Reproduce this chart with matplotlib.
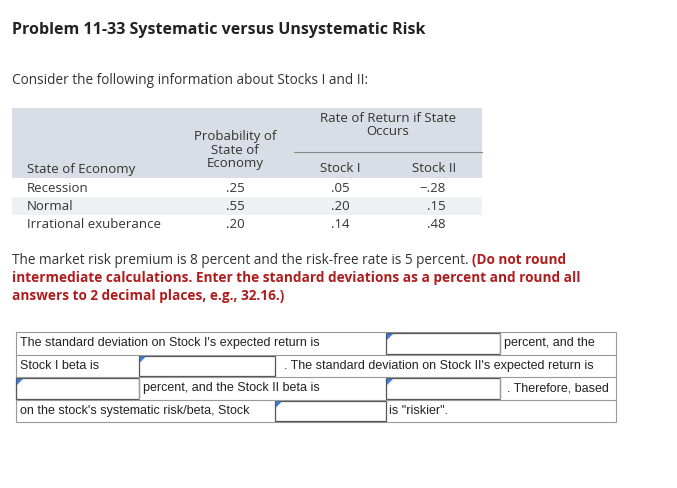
import matplotlib.pyplot as plt
from matplotlib.patches import Rectangle, Polygon

states = ["Recession", "Normal", "Irrational exuberance"]
probs = [".25", ".55", ".20"]
stock_1 = [".05", ".20", ".14"]
stock_2 = ["\u2212.28", ".15", ".48"]

FAM = "Open Sans"

fig = plt.figure(figsize=(6.77, 4.88), dpi=100)
ax = fig.add_axes([0, 0, 1, 1])
ax.set_xlim(0, 677)
ax.set_ylim(488, 0)
ax.axis("off")

ax.text(12, 30, "Problem 11-33 Systematic versus Unsystematic Risk", fontsize=11.5,
        fontweight="bold", family=FAM, va="center", color="#222222")
ax.text(12, 80, "Consider the following information about Stocks I and II:", fontsize=9.8,
        family=FAM, va="center", color="#333333")

# table header and striped row
ax.add_patch(Rectangle((12, 108), 470, 70, color="#d9dde6", lw=0))
ax.add_patch(Rectangle((12, 197), 470, 18, color="#eef0f3", lw=0))
ax.plot([294, 482], [152, 152], color="#888888", lw=0.8)

tk = dict(fontsize=9.5, family=FAM, color="#333333", va="center")
ax.text(388, 125, "Rate of Return if State\nOccurs", ha="center", linespacing=1.05, **tk)
ax.text(235, 150, "Probability of\nState of\nEconomy", ha="center", linespacing=1.05, **tk)
ax.text(27, 169, "State of Economy", ha="left", **tk)
ax.text(340, 169, "Stock I", ha="center", **tk)
ax.text(434, 169, "Stock II", ha="center", **tk)
for i, s in enumerate(states):
    y = 188 + 18 * i
    ax.text(27, y, s, ha="left", **tk)
    ax.text(235, y, probs[i], ha="center", **tk)
    ax.text(340, y, stock_1[i], ha="center", **tk)
    ax.text(446, y, stock_2[i], ha="right", **tk)

first = ax.text(12, 260, "The market risk premium is 8 percent and the risk-free rate is 5 percent. ",
                fontsize=9.8, family=FAM, va="center", color="#333333")
ax.annotate("(Do not round", xycoords=first, xy=(1, 0.5), va="center", fontsize=9.8,
            family=FAM, fontweight="bold", color="#b01c1c")
ax.text(12, 278, "intermediate calculations. Enter the standard deviations as a percent and round all",
        fontsize=9.8, family=FAM, fontweight="bold", va="center", color="#b01c1c")
ax.text(12, 296, "answers to 2 decimal places, e.g., 32.16.)", fontsize=9.8, family=FAM,
        fontweight="bold", va="center", color="#b01c1c")

# fill-in form
top, rh = 332, 22.5
ax.add_patch(Rectangle((16, top), 600, rh * 4, fill=False, ec="#999999", lw=0.8))
for r in range(1, 4):
    ax.plot([16, 616], [top + rh * r] * 2, color="#999999", lw=0.8)

def box(x0, x1, r):
    y0 = top + rh * r
    ax.add_patch(Rectangle((x0, y0 + 1), x1 - x0, rh - 2, fill=False, ec="#555555", lw=0.9))
    ax.add_patch(Polygon([(x0 + 1, y0 + 2), (x0 + 7, y0 + 2), (x0 + 1, y0 + 8)],
                         color="#3b7dd8", lw=0))

def txt(x, r, s):
    ax.text(x, top + rh * r + rh / 2, s, fontsize=9, family="Liberation Sans",
            va="center", color="#222222")

for x0, x1, r in [(386, 500, 0), (139, 275, 1), (16, 139, 2), (386, 500, 2), (275, 386, 3)]:
    box(x0, x1, r)
for x, r in [(500, 0), (500, 2), (139, 2)]:
    ax.plot([x, x], [top + rh * r, top + rh * (r + 1)], color="#999999", lw=0.8)

txt(20, 0, "The standard deviation on Stock I's expected return is")
txt(504, 0, "percent, and the")
txt(20, 1, "Stock I beta is")
txt(284, 1, ". The standard deviation on Stock II's expected return is")
txt(143, 2, "percent, and the Stock II beta is")
txt(507, 2, ". Therefore, based")
txt(20, 3, "on the stock's systematic risk/beta, Stock")
txt(389, 3, 'is "riskier".')

fig.savefig("out.png", dpi=100)
